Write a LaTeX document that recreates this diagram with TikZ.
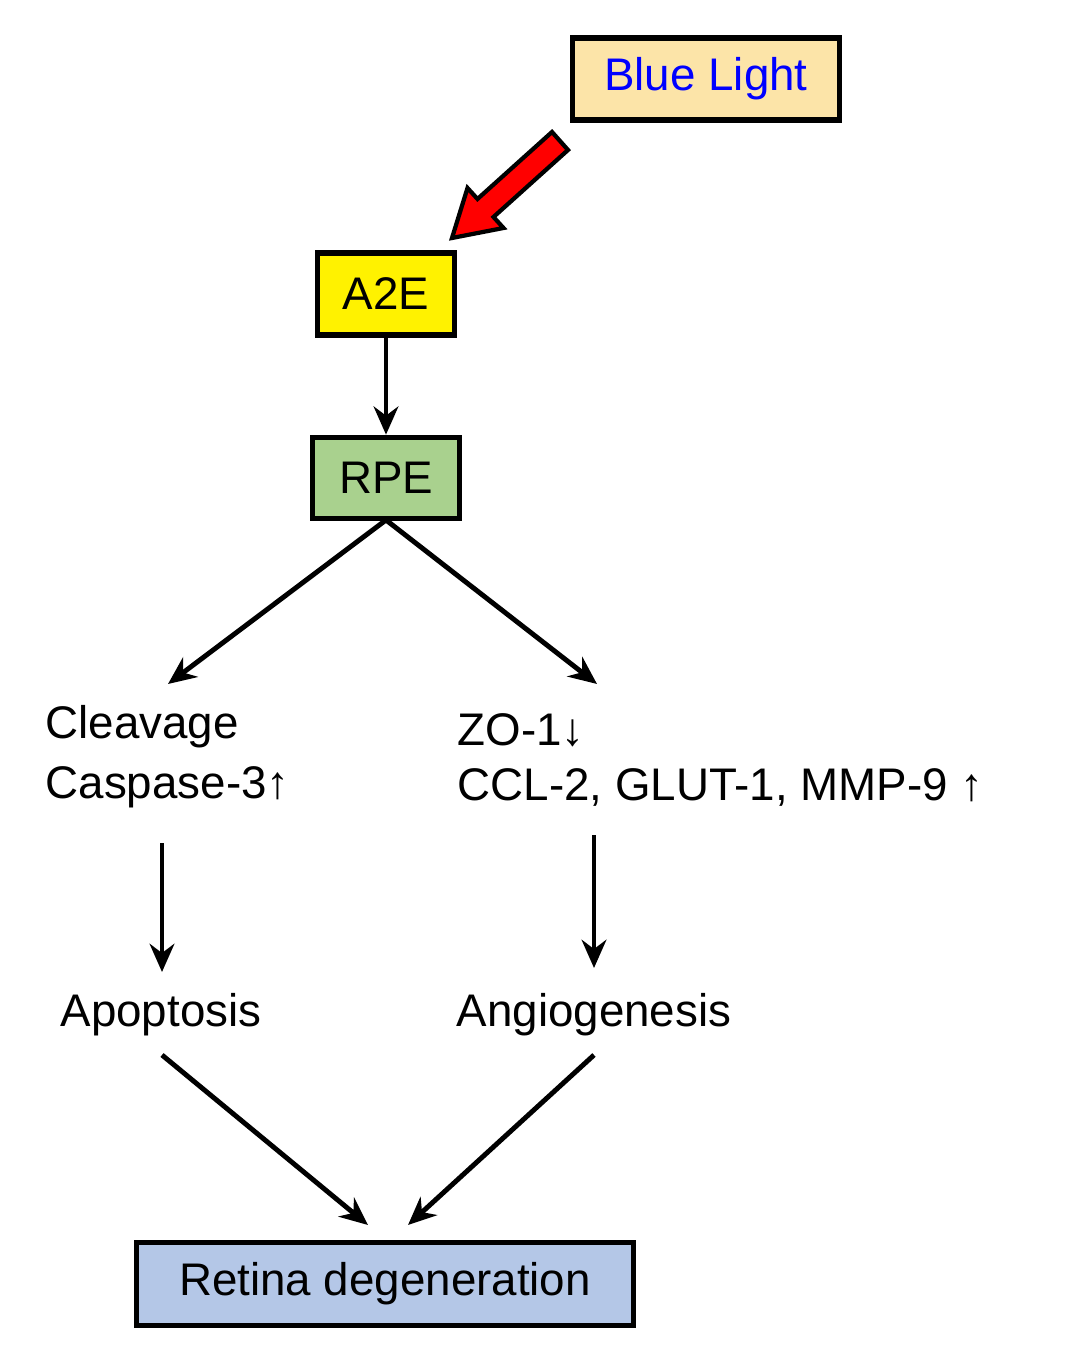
\documentclass[tikz,border=0pt]{standalone}
\usepackage{fontspec}
\setmainfont{Liberation Sans}
\usetikzlibrary{arrows.meta}
\definecolor{lightorange}{HTML}{FCE4A8}
\definecolor{rpegreen}{HTML}{A9D18E}
\definecolor{retblue}{HTML}{B4C7E7}
\begin{document}
\begin{tikzpicture}[x=0.01cm,y=-0.01cm,
  box/.style={draw,line width=1.6pt,font=\fontsize{13}{15}\selectfont,inner sep=0pt},
  lbl/.style={font=\fontsize{13}{15}\selectfont,inner sep=0pt},
  arr/.style={-{Stealth[length=8pt,width=7pt]},line width=1.4pt}]
\useasboundingbox (0,0) rectangle (1083,1364);
\node[box,fill=lightorange,minimum width=2.67cm,minimum height=0.82cm,text=blue] (blue) at (706,79) {Blue Light};
\node[box,fill=yellow,minimum width=1.37cm,minimum height=0.82cm] (a2e) at (386,294) {A2E};
\node[box,fill=rpegreen,minimum width=1.47cm,minimum height=0.81cm] (rpe) at (386,478) {RPE};
\node[box,fill=retblue,minimum width=4.97cm,minimum height=0.83cm] (ret) at (385,1284) {Retina degeneration};
% red arrow
\draw[line width=1.2pt,fill=red] (552,132) -- (477.5,199) -- (467.5,188) -- (452,238)
  -- (503.5,228) -- (493.5,217) -- (568,150) -- cycle;
\node[lbl,anchor=west] (clv) at (45,727) {Cleavage};
\node[lbl,anchor=west] (casp) at (45,787) {Caspase-3↑};
\node[lbl,anchor=west] (zo) at (457,730) {ZO-1↓};
\node[lbl,anchor=west] (ccl) at (457,787) {CCL-2, GLUT-1, MMP-9 ↑};
\node[lbl] (apo) at (161,1015) {Apoptosis};
\node[lbl] (ang) at (594,1015) {Angiogenesis};
\coordinate (rpeb) at (386,520);
\coordinate (c1) at (168,684);
\coordinate (c2) at (597,684);
\coordinate (c3) at (162,843);
\coordinate (c4) at (162,972);
\coordinate (c5) at (594,835);
\coordinate (c6) at (594,968);
\coordinate (c7) at (162,1055);
\coordinate (c8) at (368,1225);
\coordinate (c9) at (594,1055);
\coordinate (c10) at (408,1225);
\draw[arr] (a2e) -- (rpe);
\draw[arr] (rpeb) -- (c1);
\draw[arr] (rpeb) -- (c2);
\draw[arr] (c3) -- (c4);
\draw[arr] (c5) -- (c6);
\draw[arr] (c7) -- (c8);
\draw[arr] (c9) -- (c10);
\end{tikzpicture}
\end{document}
